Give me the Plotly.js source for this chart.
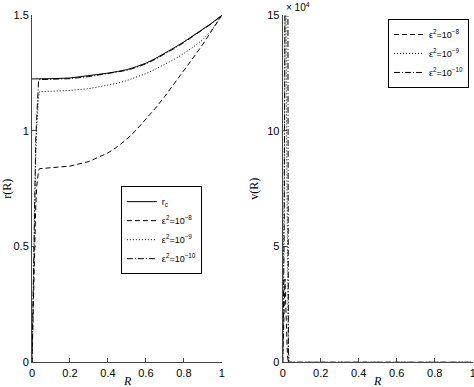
<!DOCTYPE html>
<html>
<head>
<meta charset="utf-8">
<script src="https://cdn.plot.ly/plotly-3.0.1.min.js"></script>
<style>html,body{margin:0;padding:0;background:#fff;}#plot{width:474px;height:387px;}</style>
</head>
<body>
<div id="plot"></div>
<script>
// ---- data (left panel: r(R)) ----
const R = [0, 0.005, 0.01, 0.015, 0.02, 0.025, 0.03, 0.035, 0.04, 0.1, 0.2, 0.3, 0.4, 0.45, 0.5, 0.55, 0.6, 0.65, 0.7, 0.75, 0.8, 0.85, 0.9, 0.95, 1.0];
const r_c   = [1.225, 1.225, 1.225, 1.225, 1.225, 1.225, 1.225, 1.225, 1.225, 1.226, 1.229, 1.238, 1.25, 1.257, 1.265, 1.278, 1.293, 1.313, 1.335, 1.36, 1.385, 1.412, 1.44, 1.468, 1.5];
const r_e8  = [0, 0.2, 0.4, 0.55, 0.68, 0.76, 0.81, 0.83, 0.837, 0.84, 0.848, 0.868, 0.905, 0.932, 0.965, 1.005, 1.05, 1.098, 1.15, 1.204, 1.26, 1.317, 1.375, 1.437, 1.5];
const r_e9  = [0, 0.25, 0.5, 0.72, 0.9, 1.02, 1.1, 1.15, 1.17, 1.172, 1.175, 1.183, 1.197, 1.206, 1.218, 1.232, 1.248, 1.267, 1.288, 1.31, 1.335, 1.363, 1.395, 1.44, 1.5];
const r_e10 = [0, 0.3, 0.6, 0.85, 0.97, 1.06, 1.15, 1.22, 1.222, 1.223, 1.226, 1.235, 1.247, 1.254, 1.262, 1.275, 1.29, 1.31, 1.332, 1.357, 1.382, 1.409, 1.437, 1.466, 1.5];

// ---- data (right panel: v(R)) ----
const Rv = [0, 0.004, 0.008, 0.012, 0.016, 0.02, 0.025, 0.03, 0.035, 0.1, 0.2, 0.3, 0.4, 0.5, 0.6, 0.7, 0.8, 0.9, 1.0];
const v_e8  = [0, 12000, 28000, 36000, 25000, 12000, 3000, 0, 0, 0, 0, 0, 0, 0, 0, 0, 0, 0, 0];
const v_e9  = [0, 30000, 80000, 150000, 180000, 100000, 30000, 5000, 0, 0, 0, 0, 0, 0, 0, 0, 0, 0, 0];
const v_e10 = [0, 20000, 60000, 140000, 250000, 350000, 300000, 0, 0, 0, 0, 0, 0, 0, 0, 0, 0, 0, 0];

const names = ['r<sub>c</sub>', '\u03b5<sup>2</sup>=10<sup>\u22128</sup>', '\u03b5<sup>2</sup>=10<sup>\u22129</sup>', '\u03b5<sup>2</sup>=10<sup>\u221210</sup>'];
const xTicks = [0, 0.2, 0.4, 0.6, 0.8, 1];
const xTickText = ['0', '0.2', '0.4', '0.6', '0.8', '1'];
const yTicksL = [0, 0.5, 1, 1.5];
const yTickTextL = ['0', '0.5', '1', '1.5'];
const yTicksR = [0, 50000, 100000, 150000];
const yTickTextR = ['0', '5', '10', '15'];
const xTitle = '<i>R</i>';

const ln = (d) => ({color: '#000', width: 1, dash: d});
const DOT = '1px,2px';
const DASH = '5px,3px';
const DASHDOT = '6px,2px,1px,2px';
const traces = [
  {x: R, y: r_c,   name: names[0], mode: 'lines', line: ln('solid'), xaxis: 'x',  yaxis: 'y',  legend: 'legend'},
  {x: R, y: r_e8,  name: names[1], mode: 'lines', line: ln(DASH),    xaxis: 'x',  yaxis: 'y',  legend: 'legend'},
  {x: R, y: r_e9,  name: names[2], mode: 'lines', line: ln(DOT),     xaxis: 'x',  yaxis: 'y',  legend: 'legend'},
  {x: R, y: r_e10, name: names[3], mode: 'lines', line: ln(DASHDOT), xaxis: 'x',  yaxis: 'y',  legend: 'legend'},
  {x: Rv, y: v_e8,  name: names[1], mode: 'lines', line: ln(DASH),    xaxis: 'x2', yaxis: 'y2', legend: 'legend2'},
  {x: Rv, y: v_e9,  name: names[2], mode: 'lines', line: ln(DOT),     xaxis: 'x2', yaxis: 'y2', legend: 'legend2'},
  {x: Rv, y: v_e10, name: names[3], mode: 'lines', line: ln(DASHDOT), xaxis: 'x2', yaxis: 'y2', legend: 'legend2'}
];

const tickFont = {family: 'Liberation Sans, Arial, sans-serif', size: 11, color: '#000'};
const titleFont = {family: 'Liberation Serif, Times New Roman, serif', size: 12, color: '#000'};
const xax = (dom) => ({
  domain: dom, range: [0, 1], tickvals: xTicks, ticktext: xTickText,
  ticks: 'inside', ticklen: 4, tickcolor: '#444', showline: true, linecolor: '#444', linewidth: 1,
  showgrid: false, zeroline: false, tickfont: tickFont, automargin: false, ticklabeloverflow: 'allow'
});
const yax = (anchor, range, tv, tt, title) => ({
  domain: [0.0638, 0.9605], anchor: anchor, range: range, tickvals: tv, ticktext: tt,
  ticks: 'inside', ticklen: 4, tickcolor: '#444', showline: true, linecolor: '#444', linewidth: 1,
  showgrid: false, zeroline: false, tickfont: tickFont,
  title: {text: title, font: titleFont, standoff: 6}, automargin: false
});

const legStyle = (x, y) => ({
  x: x, y: y, xanchor: 'left', yanchor: 'top', bgcolor: '#fff', bordercolor: '#000', borderwidth: 1,
  font: {family: 'Liberation Sans, Arial, sans-serif', size: 9, color: '#000'},
  itemwidth: 30, tracegroupgap: 0
});

const xTitleAnn = (xc) => ({xref: 'paper', yref: 'paper', x: xc, y: 0.016, xanchor: 'center', yanchor: 'middle',
  showarrow: false, text: xTitle, font: titleFont});

const layout = {
  width: 474, height: 387,
  margin: {l: 0, r: 0, t: 0, b: 0},
  paper_bgcolor: '#fff', plot_bgcolor: '#fff',
  showlegend: true,
  xaxis: Object.assign(xax([0.0675, 0.468]), {anchor: 'y'}),
  yaxis: yax('x', [0, 1.5], yTicksL, yTickTextL, 'r(R)'),
  xaxis2: Object.assign(xax([0.5964, 0.9973]), {anchor: 'y2'}),
  yaxis2: yax('x2', [0, 150000], yTicksR, yTickTextR, 'v(R)'),
  legend: legStyle(0.255, 0.519),
  legend2: legStyle(0.8186, 0.951),
  annotations: [
    {xref: 'paper', yref: 'paper', x: 0.6, y: 0.962, xanchor: 'left', yanchor: 'bottom', showarrow: false,
     text: '\u00d7 10<sup>4</sup>', font: {family: 'Liberation Sans, Arial, sans-serif', size: 10, color: '#000'}},
    xTitleAnn(0.268), xTitleAnn(0.797)
  ]
};

Plotly.newPlot('plot', traces, layout, {displayModeBar: false, staticPlot: true});
</script>
</body>
</html>
